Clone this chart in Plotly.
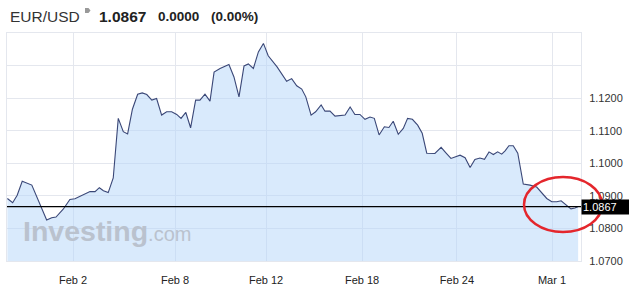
import plotly.graph_objects as go

# trading-day position (0 = Feb 2) and EUR/USD close
t = [-2.74, -2.52, -2.33, -2.12, -1.72, -1.52, -1.31, -1.10, -0.89, -0.71, -0.41, -0.13,
     0.08, 0.43, 0.71, 0.92, 1.10, 1.27, 1.47, 1.68, 1.89, 2.10, 2.28, 2.48, 2.70, 2.89,
     3.08, 3.29, 3.49, 3.70, 3.91, 4.12, 4.33, 4.51, 4.71, 4.91, 5.12, 5.30, 5.51, 5.72,
     5.89, 6.14, 6.51, 6.72, 6.93, 7.14, 7.32, 7.53, 7.74, 7.95, 8.15, 8.52, 8.92, 9.13,
     9.34, 9.55, 9.72, 9.94, 10.13, 10.36, 10.52, 10.73, 10.94, 11.36, 11.57, 11.77, 11.98,
     12.19, 12.40, 12.58, 12.78, 13.00, 13.19, 13.37, 13.58, 13.79, 13.97, 14.17, 14.39,
     14.58, 14.77, 15.11, 15.37, 15.56, 15.78, 16.16, 16.37, 16.58, 16.78, 16.99, 17.18,
     17.37, 17.55, 17.73, 17.90, 18.04, 18.20, 18.38, 18.57, 18.80, 19.08, 19.36, 19.57,
     19.78, 19.99, 20.20, 20.38, 20.61, 20.79, 20.96, 21.09]
price = [1.0892, 1.0879, 1.0902, 1.0945, 1.0933, 1.0897, 1.0860, 1.0826, 1.0833, 1.0835,
         1.0859, 1.0889, 1.0891, 1.0902, 1.0913, 1.0913, 1.0925, 1.0916, 1.0910, 1.0955,
         1.1138, 1.1097, 1.1090, 1.1166, 1.1212, 1.1216, 1.1211, 1.1194, 1.1199, 1.1148,
         1.1158, 1.1158, 1.1150, 1.1138, 1.1156, 1.1109, 1.1194, 1.1194, 1.1212, 1.1191,
         1.1280, 1.1291, 1.1303, 1.1265, 1.1204, 1.1299, 1.1305, 1.1291, 1.1342, 1.1368,
         1.1330, 1.1296, 1.1252, 1.1260, 1.1238, 1.1228, 1.1204, 1.1148, 1.1158, 1.1179,
         1.1160, 1.1160, 1.1145, 1.1148, 1.1173, 1.1150, 1.1150, 1.1135, 1.1142, 1.1138,
         1.1087, 1.1112, 1.1110, 1.1129, 1.1089, 1.1107, 1.1138, 1.1135, 1.1117, 1.1092,
         1.1031, 1.1030, 1.1049, 1.1033, 1.1015, 1.1025, 1.1017, 1.0987, 1.1012, 1.1016,
         1.1012, 1.1035, 1.1027, 1.1035, 1.1028, 1.1038, 1.1054, 1.1054, 1.1031, 1.0936,
         1.0933, 1.0927, 1.0910, 1.0892, 1.0882, 1.0882, 1.0885, 1.0872, 1.0860, 1.0863,
         1.0867]

x_tick_pos = [0, 4.26, 8.06, 12.07, 16.03, 20]
x_tick_text = ["Feb 2", "Feb 8", "Feb 12", "Feb 18", "Feb 24", "Mar 1"]
y_tick_vals = [1.07, 1.08, 1.09, 1.10, 1.11, 1.12, 1.13, 1.14]
y_tick_text = ["1.0700", "1.0800", "1.0900", "1.1000", "1.1100", "1.1200", "", ""]
last_price = 1.0867

GRID = "#e4e7ee"
FONT = "Liberation Sans, Arial, sans-serif"

fig = go.Figure()
fig.add_trace(go.Scatter(
    x=t, y=price, mode="lines", fill="tozeroy",
    fillcolor="rgba(183,214,250,0.52)",
    line=dict(color="#3a4777", width=1.1),
    hoverinfo="skip", showlegend=False))

fig.update_layout(
    width=629, height=289,
    margin=dict(l=7, r=48, t=33, b=28),
    paper_bgcolor="white", plot_bgcolor="white",
    font=dict(family=FONT, size=11, color="#333"),
    xaxis=dict(range=[-2.756, 21.21], tickvals=x_tick_pos, ticktext=x_tick_text,
               showgrid=True, gridcolor=GRID, gridwidth=1, zeroline=False,
               showline=True, linecolor=GRID, mirror=True, automargin=False,
               ticks="outside", ticklen=9, tickcolor="rgba(0,0,0,0)",
               tickfont=dict(size=11, color="#222")),
    yaxis=dict(range=[1.07, 1.14], side="right", tickvals=y_tick_vals, ticktext=y_tick_text,
               showgrid=True, gridcolor=GRID, gridwidth=1, zeroline=False,
               showline=True, linecolor=GRID, mirror=True, automargin=False,
               ticks="outside", ticklen=5, tickcolor="rgba(0,0,0,0)",
               tickfont=dict(size=11, color="#333")),
)

# last price horizontal line
fig.add_shape(type="line", xref="paper", yref="y", x0=0, x1=1, y0=last_price, y1=last_price,
              line=dict(color="black", width=1.2), layer="above")

# last price label box
fig.add_annotation(xref="paper", yref="y", x=1.0, y=last_price - 0.0001, xanchor="left",
                   yanchor="middle", text="1.0867", showarrow=False, bgcolor="black",
                   width=45, align="left",
                   font=dict(color="white", size=11, family=FONT), borderpad=1)

# red ellipse
fig.add_shape(type="circle", xref="paper", yref="paper", x0=0.9007, x1=1.0366, y0=0.127, y1=0.368,
              line=dict(color="#e4262c", width=2.5), layer="above")

# watermark
fig.add_annotation(xref="paper", yref="paper", x=0.024, y=0.13, xanchor="left", yanchor="middle",
                   text="<b>Investing</b><span style='font-size:20px'>.com</span>",
                   showarrow=False, font=dict(size=28.5, color="#bac2ce", family=FONT))

# title
fig.add_annotation(xref="paper", yref="paper", x=(8 - 7) / 574, y=(261 - 16) / 228,
                   xanchor="left", yanchor="middle", text="EUR/USD", showarrow=False,
                   font=dict(size=15.5, color="#333", family=FONT))
fig.add_shape(type="path", xref="paper", yref="paper",
              path="M 0.1359 1.0877 L 0.1359 1.1096 L 0.1420 1.1096 L 0.1455 1.0986 L 0.1420 1.0877 Z",
              fillcolor="#999", line=dict(width=0))
fig.add_annotation(xref="paper", yref="paper", x=(96.5 - 7) / 574, y=(261 - 16) / 228,
                   xanchor="left", yanchor="middle", text="<b>1.0867</b>", showarrow=False,
                   font=dict(size=15.5, color="#222", family=FONT))
fig.add_annotation(xref="paper", yref="paper", x=(155.5 - 7) / 574, y=(261 - 16.5) / 228,
                   xanchor="left", yanchor="middle", text="<b>0.0000</b>", showarrow=False,
                   font=dict(size=13.5, color="#222", family=FONT))
fig.add_annotation(xref="paper", yref="paper", x=(209 - 7) / 574, y=(261 - 16.5) / 228,
                   xanchor="left", yanchor="middle", text="<b>(0.00%)</b>", showarrow=False,
                   font=dict(size=13.5, color="#222", family=FONT))

fig.write_html("out.html")
